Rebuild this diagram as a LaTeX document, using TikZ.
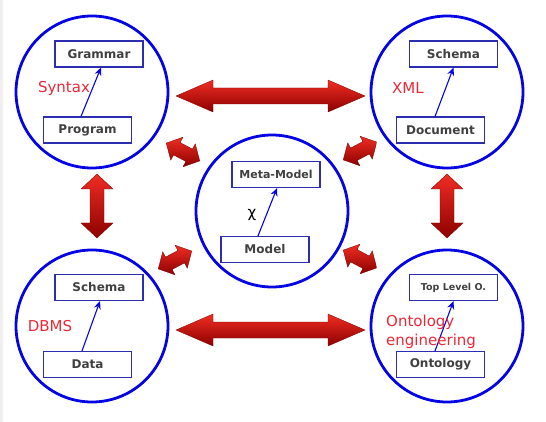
\documentclass[tikz,border=0pt]{standalone}
\usepackage{fontspec}
\setmainfont{DejaVu Sans}
\usetikzlibrary{arrows.meta}
\definecolor{cblue}{RGB}{5,5,228}
\definecolor{bblue}{RGB}{45,45,175}
\definecolor{lred}{RGB}{232,40,55}
\definecolor{ared}{RGB}{240,45,35}
\definecolor{mred}{RGB}{218,10,5}
\definecolor{dred}{RGB}{140,0,0}
\tikzset{
  pics/dblarrow/.style n args={4}{code={
    % #1 total length, #2 shaft width, #3 head width, #4 head length
    \pgfmathsetmacro\La{#1/2}\pgfmathsetmacro\Sa{#2/2}
    \pgfmathsetmacro\Wa{#3/2}\pgfmathsetmacro\Ha{#1/2-#4}
    \path[redshade] (-\La,0) -- (-\Ha,-\Wa) -- (-\Ha,-\Sa) -- (\Ha,-\Sa) -- (\Ha,-\Wa)
      -- (\La,0) -- (\Ha,\Wa) -- (\Ha,\Sa) -- (-\Ha,\Sa) -- (-\Ha,\Wa) -- cycle;
  }},
  redshade/.style={top color=ared, middle color=mred, bottom color=dred, draw=dred!85!black, line width=0.3pt}
}
\begin{document}
\begin{tikzpicture}[x=1pt,y=-1pt,
  circ/.style={circle, draw=cblue, line width=2.8pt, minimum size=152pt, inner sep=0pt},
  box/.style={rectangle, draw=bblue, line width=1.1pt, minimum width=88pt, minimum height=26pt, inner sep=0pt, fill=white,
    font=\bfseries\fontsize{12}{13}\selectfont, text=black!75},
  lbl/.style={text=lred, font=\fontsize{15}{19}\selectfont, inner sep=0pt},
  inarrow/.style={draw=cblue, line width=1.1pt, -{Stealth[length=8pt,width=7pt]}}
]
\useasboundingbox (0,0) rectangle (546,422);
\fill[gray!12] (0,0) rectangle (2.5,422);

% circles
\node[circ] (c1) at (92,92) {};
\node[circ] (c2) at (447,92) {};
\node[circ] (c3) at (272,211) {};
\node[circ] (c4) at (92,326) {};
\node[circ] (c5) at (447,326) {};

% red double arrows between the circles
\pic at (270.5,96) {dblarrow={189}{16}{32}{37}};
\pic at (270.5,330) {dblarrow={189}{16}{32}{37}};
\pic[rotate=90] at (97,206) {dblarrow={64}{14}{32}{15}};
\pic[rotate=90] at (447,206) {dblarrow={64}{14}{32}{15}};
\pic[rotate=-28] at (183,152) {dblarrow={38}{14}{26}{12}};
\pic[rotate=28] at (360,151) {dblarrow={38}{14}{26}{12}};
\pic[rotate=28] at (175,260) {dblarrow={38}{14}{26}{12}};
\pic[rotate=-28] at (360,259) {dblarrow={38}{14}{26}{12}};

% boxes
\node[box] (gram) at (99,54) {Grammar};
\node[box] (prog) at (87.5,130) {Program};
\node[box] (sch1) at (453.5,54) {Schema};
\node[box] (doc) at (440.5,130) {Document};
\node[box, font=\bfseries\fontsize{11}{12}\selectfont] (mm) at (276,174.5) {Meta-Model};
\node[box] (model) at (265,249.5) {Model};
\node[box] (sch2) at (99,287.5) {Schema};
\node[box] (data) at (87.5,364.5) {Data};
\node[box, font=\bfseries\fontsize{9.5}{12}\selectfont] (tlo) at (453.5,287.5) {Top Level O.};
\node[box] (onto) at (440.5,364.5) {Ontology};

% inner arrows
\draw[inarrow] ([xshift=-6.5pt]prog.north) -- ([xshift=2pt]gram.south);
\draw[inarrow] ([xshift=-5.5pt]doc.north) -- ([xshift=0pt]sch1.south);
\draw[inarrow] ([xshift=-7pt]model.north) -- ([xshift=1pt]mm.south);
\draw[inarrow] ([xshift=-5.5pt]data.north) -- ([xshift=1pt]sch2.south);
\draw[inarrow] ([xshift=-5.5pt]onto.north) -- ([xshift=0pt]tlo.south);

% labels
\node[lbl] (l1) at (64,88) {Syntax};
\node[lbl] (l2) at (408,88) {XML};
\node[lbl] (l4) at (50,326) {DBMS};
\node[lbl, align=left, anchor=west] (l5) at (386,332) {Ontology\\engineering};
\node[font=\fontsize{15}{17}\selectfont, inner sep=0pt] (chi) at (252,215) {χ};
\end{tikzpicture}
\end{document}
